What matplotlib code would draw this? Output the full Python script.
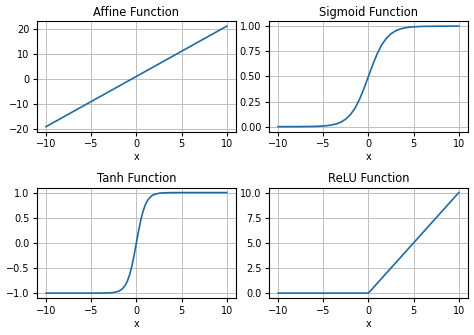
import matplotlib
matplotlib.use("Agg")
import matplotlib.pyplot as plt

# affine line endpoints
affine_x = [-10, 10]
affine_y = [-19, 21]

# sigmoid samples (denser near the centre)
sig_x = [-10, -8, -6, -5, -4.5, -4, -3.5, -3, -2.5, -2, -1.5, -1, -0.5, 0,
         0.5, 1, 1.5, 2, 2.5, 3, 3.5, 4, 4.5, 5, 6, 8, 10]
sig_y = [0.0000, 0.0003, 0.0025, 0.0067, 0.011, 0.018, 0.029, 0.047, 0.076,
         0.119, 0.182, 0.269, 0.378, 0.500, 0.622, 0.731, 0.818, 0.881, 0.924,
         0.953, 0.971, 0.982, 0.989, 0.9933, 0.9975, 0.9997, 1.0000]

# tanh samples
tanh_x = [-10, -5, -4, -3, -2.5, -2, -1.75, -1.5, -1.25, -1, -0.75, -0.5, -0.25, 0,
          0.25, 0.5, 0.75, 1, 1.25, 1.5, 1.75, 2, 2.5, 3, 4, 5, 10]
tanh_y = [-1.0, -0.9999, -0.9993, -0.995, -0.987, -0.964, -0.941, -0.905, -0.848,
          -0.762, -0.635, -0.462, -0.245, 0.0, 0.245, 0.462, 0.635, 0.762, 0.848,
          0.905, 0.941, 0.964, 0.987, 0.995, 0.9993, 0.9999, 1.0]

# relu corners
relu_x = [-10, 0, 10]
relu_y = [0, 0, 10]

fig, axs = plt.subplots(2, 2, figsize=(4.74, 3.35), dpi=100)
panels = [
    (axs[0, 0], affine_x, affine_y, 'Affine Function'),
    (axs[0, 1], sig_x, sig_y, 'Sigmoid Function'),
    (axs[1, 0], tanh_x, tanh_y, 'Tanh Function'),
    (axs[1, 1], relu_x, relu_y, 'ReLU Function'),
]
for ax, x, y, title in panels:
    ax.plot(x, y, lw=1.2, color='#1f6aa5')
    ax.set_title(title, fontsize=8.3, pad=4)
    ax.set_xlabel('x', fontsize=7, labelpad=2)
    ax.tick_params(labelsize=7, length=3, pad=2.5)
    ax.grid(True, color='#c0c0c0', lw=0.7)
    ax.set_xticks([-10, -5, 0, 5, 10])

axs[0, 0].set_yticks([-20, -10, 0, 10, 20])
axs[0, 1].set_yticks([0, 0.25, 0.5, 0.75, 1.0])
axs[1, 0].set_yticks([-1.0, -0.5, 0.0, 0.5, 1.0])
axs[1, 1].set_yticks([0, 2.5, 5, 7.5, 10])

fig.subplots_adjust(left=0.078, right=0.987, top=0.937, bottom=0.110,
                    wspace=0.167, hspace=0.505)
plt.savefig('out.png', dpi=100)
